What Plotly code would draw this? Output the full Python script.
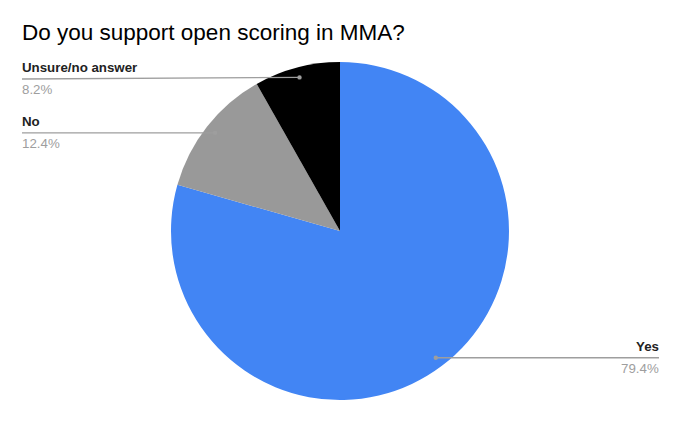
import math
import plotly.graph_objects as go

labels = ["Yes", "No", "Unsure/no answer"]
values = [79.4, 12.4, 8.2]
colors = ["#4285F4", "#999999", "#000000"]
pct_text = ["79.4%", "12.4%", "8.2%"]

W, H = 680, 421
OFF = 8  # page body margin
CX, CY, R = 340, 231, 169

def px(x):
    return (x - OFF) / W

def py(y):
    return 1 - (y - OFF) / H

fig = go.Figure(go.Pie(
    labels=labels, values=values, sort=False, direction="clockwise", rotation=0,
    marker=dict(colors=colors, line=dict(width=0)),
    textinfo="none", hoverinfo="label+percent", showlegend=False,
    domain=dict(x=[px(CX - R), px(CX + R)], y=[py(CY + R), py(CY - R)]),
))

shapes = []
annotations = []
total = sum(values)
cum = 0.0
for lab, v, t in zip(labels, values, pct_text):
    mid = (cum + v / 2) / total * 2 * math.pi
    cum += v
    r = R * 0.94
    dx = CX + r * math.sin(mid)
    dy = CY - r * math.cos(mid)
    ly = max(dy, 79)
    right = math.sin(mid) > 0
    lx = 659 if right else 22
    shapes.append(dict(type="line", xref="paper", yref="paper",
                       x0=px(dx), y0=py(dy), x1=px(lx), y1=py(ly),
                       line=dict(color="#9e9e9e", width=1.3)))
    shapes.append(dict(type="circle", xref="paper", yref="paper",
                       x0=px(dx - 2.2), x1=px(dx + 2.2), y0=py(dy - 2.2), y1=py(dy + 2.2),
                       fillcolor="#9e9e9e", line=dict(width=0)))
    anchor = "right" if right else "left"
    annotations.append(dict(xref="paper", yref="paper", x=px(lx), y=py(ly - 2),
                            text="<b>" + lab + "</b>", showarrow=False,
                            xanchor=anchor, yanchor="bottom", xshift=-2 if not right else 2,
                            font=dict(family="Liberation Sans, Arial", size=13.3, color="#222222")))
    annotations.append(dict(xref="paper", yref="paper", x=px(lx), y=py(ly + 1),
                            text=t, showarrow=False,
                            xanchor=anchor, yanchor="top", xshift=-2 if not right else 2,
                            font=dict(family="Liberation Sans, Arial", size=13.3, color="#9e9e9e")))

annotations.append(dict(xref="paper", yref="paper", x=px(20), y=py(18),
                        text="Do you support open scoring in MMA?", showarrow=False,
                        xanchor="left", yanchor="top",
                        font=dict(family="Liberation Sans, Arial", size=22.5, color="#000000")))

fig.update_layout(
    width=W, height=H, margin=dict(l=0, r=0, t=0, b=0),
    paper_bgcolor="white", plot_bgcolor="white",
    shapes=shapes, annotations=annotations,
)

fig.write_html("out.html")
